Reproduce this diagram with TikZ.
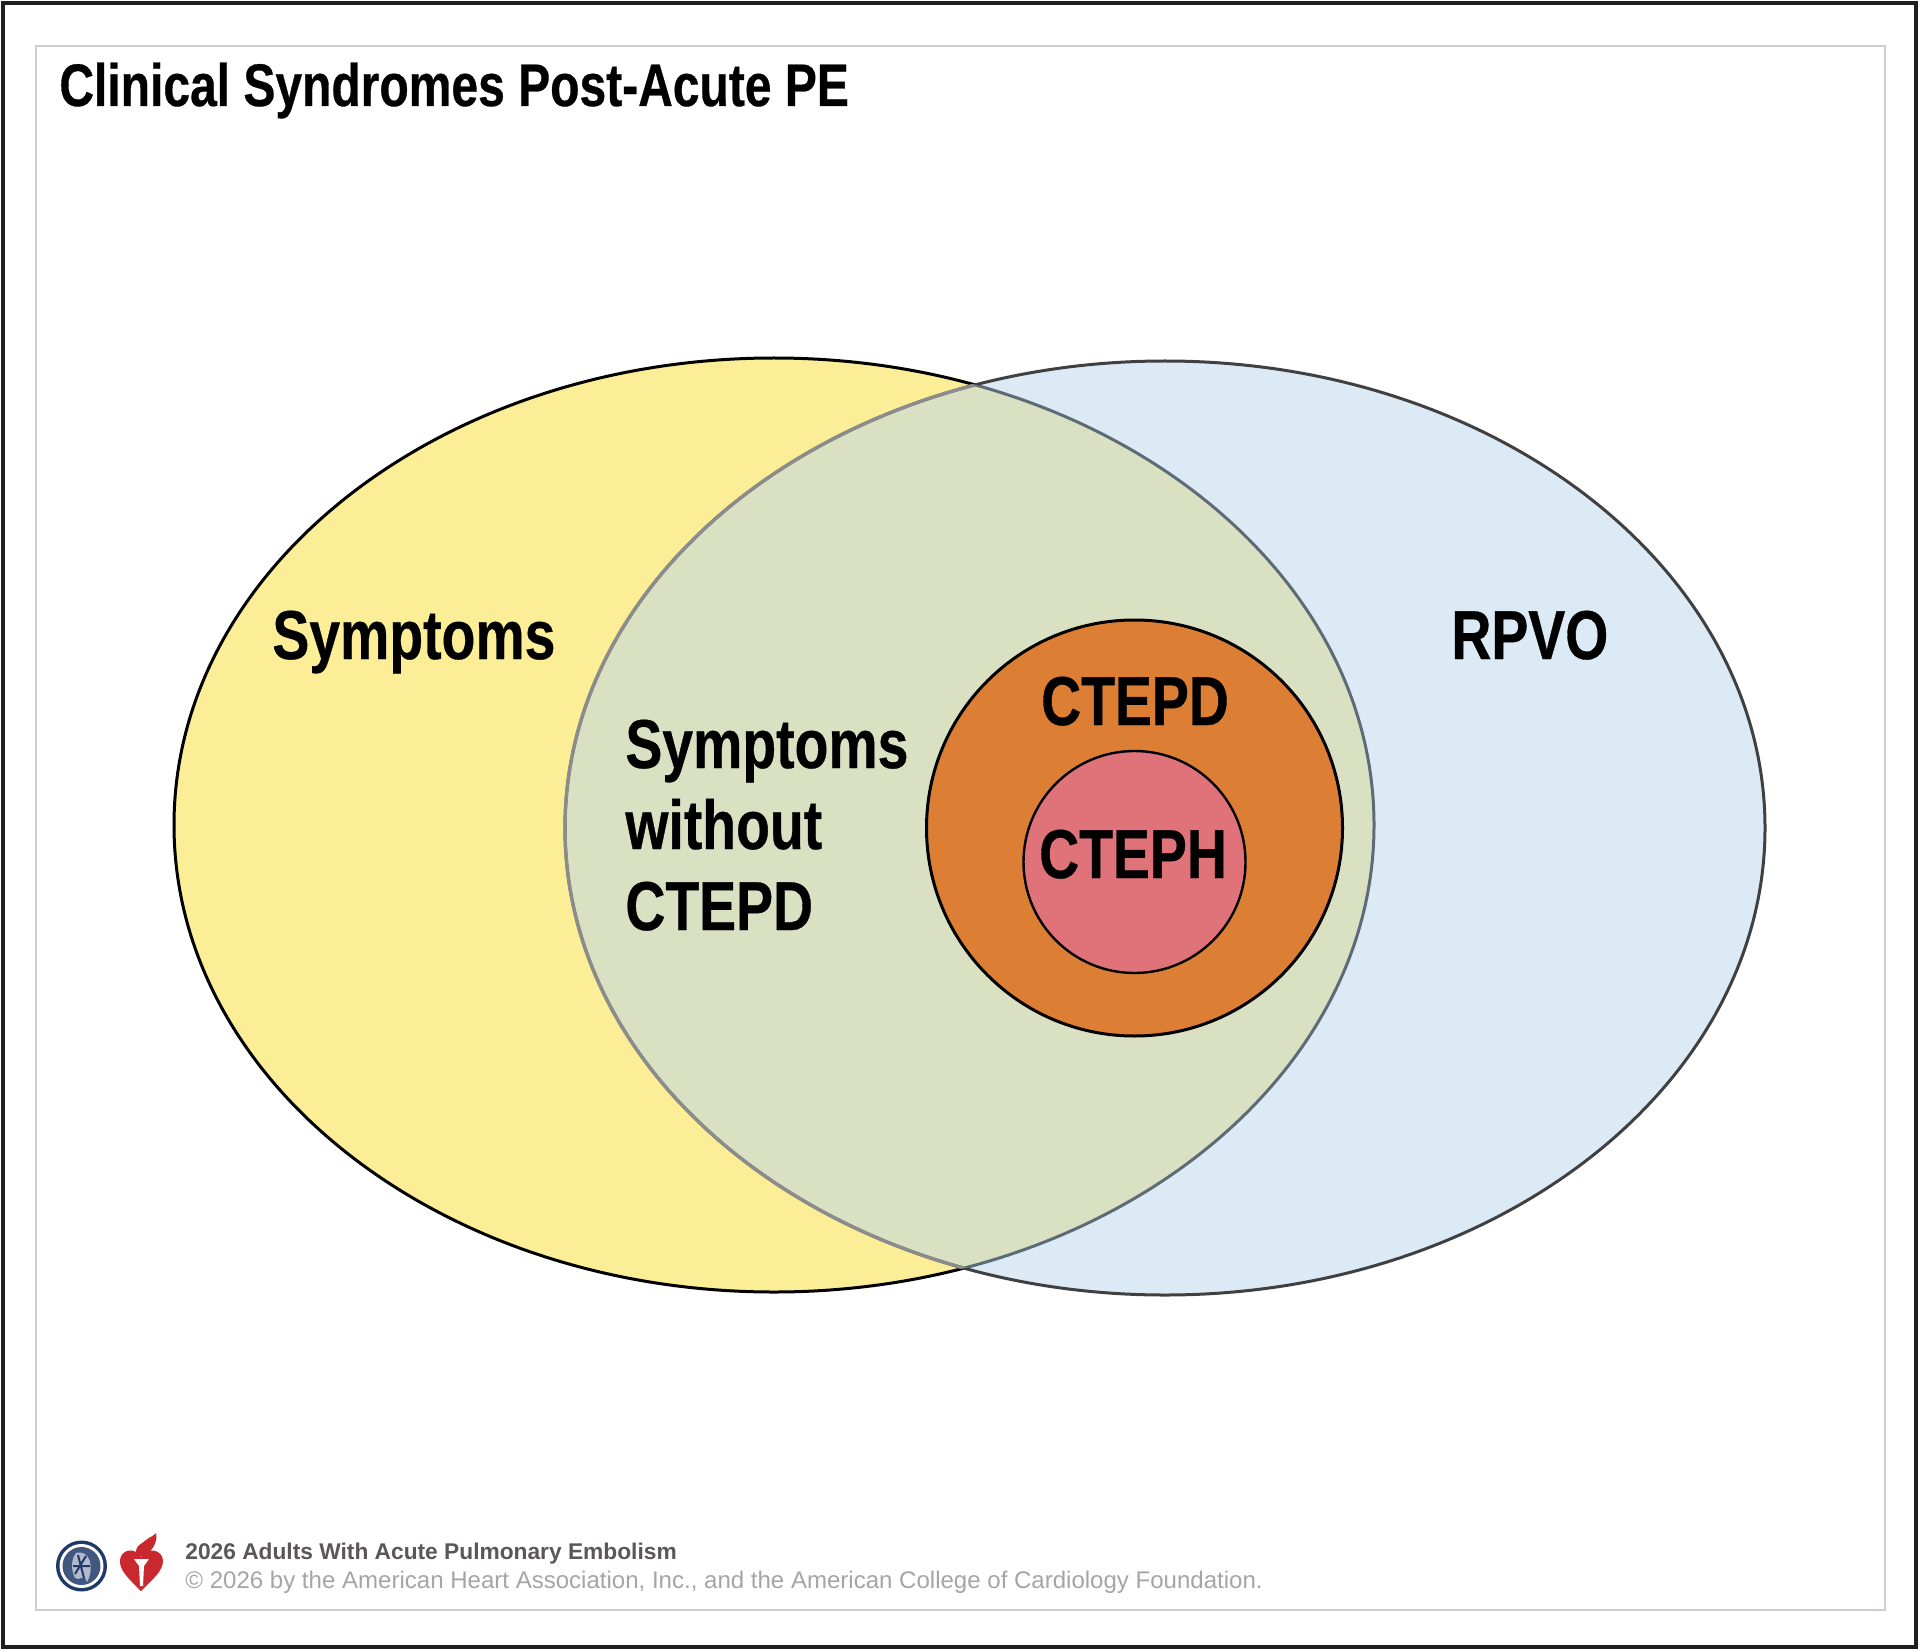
\documentclass[tikz,border=0pt]{standalone}
\usepackage{fontspec}
\setmainfont{Liberation Sans}
\newfontfamily\narrowbold[FakeStretch=0.80,FakeBold=0.5]{Liberation Sans Bold}
\usetikzlibrary{positioning}
\definecolor{vennyellow}{HTML}{FBEE96}
\definecolor{vennblue}{HTML}{BBD6EE}
\definecolor{ctepdorange}{HTML}{DC7F35}
\definecolor{ctephpink}{HTML}{E0727A}
\definecolor{framegray}{HTML}{D2CECE}
\definecolor{footdark}{HTML}{5C5757}
\definecolor{footlight}{HTML}{A8A4A4}
\definecolor{sealnavy}{HTML}{1F3A68}
\definecolor{heartred}{HTML}{C8282E}

\begin{document}
\begin{tikzpicture}[x=0.5pt,y=-0.5pt]
	\tikzstyle{venn label}
	=[anchor=base west,inner sep=0pt,font=\narrowbold\fontsize{34.6}{35}\selectfont,text=black]
	\tikzstyle{circle label}
	=[venn label,anchor=base]
	\tikzstyle{foot line}
	=[anchor=base west,inner sep=0pt]
	
	\useasboundingbox (0,0) rectangle (1920,1652);
	\fill[white] (0,0) rectangle (1920,1652);
	
	% Draw the outer border and the inner frame
	\draw[line width=2pt,black!88] (3,3) rectangle (1916,1647);
	\draw[line width=1pt,framegray] (36,46) rectangle (1885,1610);
	
	% Draw the two large ellipses
	\filldraw[fill=vennyellow,draw=black,line width=1.5pt] (774,825) ellipse (600 and 467);
	\fill[vennblue,fill opacity=0.5] (1165,828) ellipse (600 and 467);
	\draw[line width=1.5pt,black!75] (1165,828) ellipse (600 and 467);
	% The part of the blue edge that lies on the yellow one is lighter
	\begin{scope}
		\clip (774,825) ellipse (600 and 467);
		\draw[line width=1.7pt,black!45] (1165,828) ellipse (600 and 467);
	\end{scope}
	
	% Draw the nested circles
	\node[circle,draw=black,line width=1.5pt,fill=ctepdorange,minimum size=208pt,inner sep=0pt] (ctepd) at (1134.5,828) {};
	\node[circle,draw=black,line width=1.2pt,fill=ctephpink,minimum size=111pt,inner sep=0pt] (cteph) at (1134.5,862) {};
	
	% Annotate the regions
	\node[venn label] (title) at (59,106) {\fontsize{30}{30}\selectfont Clinical Syndromes Post-Acute PE};
	\node[venn label] (symptoms) at (272,659) {Symptoms};
	\node[venn label] (rpvo) at (1451,659) {RPVO};
	\foreach \name / \y / \txt in {a/768/Symptoms,b/849/without,c/930/CTEPD}
	\node[venn label] (mid-\name) at (625,\y) {\txt};
	\node[circle label] (ctepd-text) at (1135,725) {CTEPD};
	\node[circle label] (cteph-text) at (1133,878) {CTEPH};
	
	% Draw the seal
	\fill[sealnavy] (81.5,1566) circle (25.5);
	\fill[white] (81.5,1566) circle (22);
	\fill[sealnavy!85] (81.5,1566) circle (19);
	\fill[white!65!sealnavy] (76,1553) .. controls (90,1549) and (95,1568) .. (87,1582) .. controls (84,1572) and (80,1582) .. (75,1578) .. controls (70,1568) and (72,1558) .. (76,1553);
	\draw[sealnavy,line width=1pt] (78,1555) -- (84,1578) (86,1556) -- (75,1574) (73,1566) -- (90,1566);
	
	% Draw the heart and torch
	\fill[heartred] (141,1591) .. controls (128,1578) and (119,1570) .. (120,1560) .. controls (121,1550) and (134,1546) .. (141,1557) .. controls (148,1546) and (163,1550) .. (163,1561) .. controls (163,1571) and (152,1580) .. (141,1591);
	\fill[heartred] (138,1556) .. controls (132,1548) and (140,1545) .. (146,1540) .. controls (150,1537) and (155,1535) .. (156,1533) .. controls (158,1541) and (153,1550) .. (145,1556);
	\fill[white] (134,1559) -- (149,1559) -- (144,1566) -- (143,1586) -- (140,1586) -- (139,1566) -- cycle;
	
	% Footer text
	\node[foot line,text=footdark] (foot-a) at (185,1559) {\fontsize{11.37}{14}\selectfont\bfseries 2026 Adults With Acute Pulmonary Embolism};
	\node[foot line,text=footlight] (foot-b) at (185,1588) {\fontsize{12.02}{14}\selectfont © 2026 by the American Heart Association, Inc., and the American College of Cardiology Foundation.};
\end{tikzpicture}
\end{document}
